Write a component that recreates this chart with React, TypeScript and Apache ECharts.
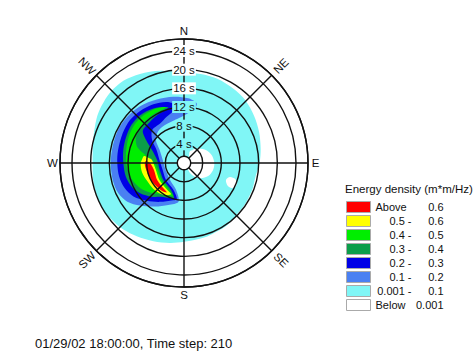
import React, { useEffect, useRef } from 'react';
import * as echarts from 'echarts';

// ---------- data ----------
const levelLow = ['Above', '0.5 -', '0.4 -', '0.3 -', '0.2 -', '0.1 -', '0.001 -', 'Below'];
const levelHigh = ['0.6', '0.6', '0.5', '0.4', '0.3', '0.2', '0.1', '0.001'];
const levelNames = levelLow.map((l, i) => `${l} ${levelHigh[i]}`);
const levelColors = ['#ff0000', '#ffff00', '#00ee00', '#0b9e4a', '#0000e6', '#4a80f2', '#80f6f6', '#ffffff'];

const periodTicks = [4, 8, 12, 16, 20, 24];
const periodMax = 26.57;
const innerPeriod = 1.43;

const directionNames = ['N', 'NE', 'E', 'SE', 'S', 'SW', 'W', 'NW'];
const directionAngles = [0, 45, 90, 135, 180, 225, 270, 315];

// contour outlines: [direction (deg, clockwise from N), period (s)]
const aboveLevel = [
  [273, 8.2], [270, 7.3], [256.9, 6.6], [237.8, 6.8], [215.1, 7.1], [210.4, 7.3],
  [216.9, 7.6], [227.3, 7.7], [239.9, 7.9], [252.6, 8.1], [262.5, 8.3], [268.5, 8.4],
];
const level05 = [
  [275.4, 9.0], [279.9, 8.7], [278.1, 7.6], [275.4, 6.9], [256, 6.2], [235.2, 6.4],
  [212.2, 6.8], [202.8, 7.2], [206.6, 7.7], [216.6, 8.3], [230.2, 8.6], [244.7, 8.8],
  [257.3, 9.2], [268.6, 9.3],
];
const level04 = [
  [342, 12.6], [333, 13.1], [320, 13.4], [307, 13.4], [295, 13.1], [283, 12.7], [270, 12.4],
  [259, 12.0], [248, 11.4], [237, 10.5], [226, 9.3], [216, 8.2], [205, 7.7], [198.4, 7.5],
  [209.1, 6.6], [232.9, 6.0], [254.9, 5.8], [268, 6.2], [276, 7.0], [282, 8.5], [289, 10.6],
  [297, 11.6], [306, 12.0], [315, 12.2], [328, 12.3], [338, 12.3],
];
const level03 = [
  [344.3, 12.4], [330.7, 13.4], [317.5, 13.9], [306, 13.9], [294.4, 13.6], [282.1, 13.3],
  [270.3, 13.0], [256.7, 12.8], [245.6, 12.3], [235.4, 11.4], [223.8, 10.0], [213.5, 8.7],
  [205, 8.2], [196, 7.8], [205.7, 6.4], [230.3, 5.7], [253.7, 5.4], [276.3, 5.8], [292.1, 7.4],
  [301.2, 9.5], [308, 11.2], [318.8, 11.4], [329.2, 11.7], [338.4, 12.0],
];
const level02 = [
  [352.8, 12.5], [344.2, 13.6], [332.5, 14.2], [319.9, 14.6], [308.5, 14.8], [295.8, 14.6],
  [281.2, 14.4], [270.3, 14.3], [258, 14.2], [246.8, 13.8], [236.4, 13.0], [224.7, 11.4],
  [211.8, 9.8], [196.1, 8.3], [191, 7.9], [201.3, 6.2], [226.6, 5.3], [252, 4.8], [277, 5.3],
  [295.3, 6.5], [305.7, 8.4], [315.9, 9.8], [328.8, 9.9], [339.5, 10.6], [348.4, 11.4],
];
const level01 = [
  [12, 13.1], [3.8, 13.9], [350.8, 14.4], [336.8, 14.8], [322.3, 15.4], [309.2, 15.7],
  [296.7, 15.8], [282.9, 15.7], [270.2, 15.7], [256.6, 15.7], [245.2, 15.5], [235.7, 14.7],
  [225.9, 13.1], [213.6, 11.2], [200.5, 9.6], [188, 8.4], [196.5, 6.0], [219.5, 4.7],
  [249.3, 4.2], [277.9, 4.6], [298, 5.9], [309.4, 7.8], [320.9, 8.8], [333.4, 9.1],
  [350.5, 9.5], [3.2, 10.5], [11.4, 12.0],
];
const level0001 = [
  [0, 19.4], [10.6, 19.4], [21.6, 19.4], [34, 19.1], [44.7, 18.8], [56, 18.1], [67.7, 17.4],
  [79.7, 16.7], [90, 16.2], [100.7, 15.6], [110, 15.7], [117, 15.7], [124.8, 15.8], [133, 15.8],
  [145, 16.2], [154, 16.3], [162.4, 16.5], [170, 16.6], [180, 16.9], [190, 17.4], [201.4, 18.0],
  [212.8, 18.7], [222.3, 19.3], [230.5, 19.6], [240, 20.0], [249, 20.0], [259.6, 19.8],
  [270, 19.6], [284.8, 20.1], [296.7, 21.0], [304.9, 21.5], [313.7, 21.9], [323.6, 21.9],
  [333.7, 21.3], [345.4, 20.4],
];
const belowHoleCenter = [
  [26.6, 2.9], [45, 4.4], [60.3, 5.5], [74.9, 6.2], [90, 6.5], [104, 6.4], [118.4, 5.9],
  [133.2, 4.8], [146.3, 3.1], [146, 1.5], [45, 1.5],
];
const belowHoleSpot = [
  [112, 9.7], [106.9, 10.3], [107.4, 11.5], [111.6, 12.2], [117, 11.8], [117.6, 10.6],
];

const levelPolys: number[][][][] = [
  [aboveLevel], [level05], [level04], [level03], [level02], [level01], [level0001],
  [belowHoleCenter, belowHoleSpot],
];

// ---------- chart ----------
const FONT = 'Liberation Sans, Arial, sans-serif';
const drawOrder = [6, 7, 5, 4, 3, 2, 1, 0];
const LINE = '#111';
const LW = 1.4;

function buildOption() {
  const contourSeries = drawOrder.map((li, k) => ({
    type: 'custom',
    name: levelNames[li],
    coordinateSystem: 'polar',
    silent: true,
    z: 2,
    itemStyle: { color: levelColors[li] },
    data: levelPolys[li].map((p, i) => [p[0][1], p[0][0], i]),
    renderItem: (params: any, api: any) => {
      const poly = levelPolys[li][params.dataIndex];
      const points = poly.map(([a, r]) => api.coord([r, a]));
      return {
        type: 'polygon',
        z2: k,
        shape: { points, smooth: 0.3 },
        style: { fill: levelColors[li], stroke: null },
      };
    },
  }));

  const innerCircle = {
    type: 'custom',
    name: 'inner',
    coordinateSystem: 'polar',
    silent: true,
    z: 20,
    data: [[innerPeriod, 0]],
    renderItem: (params: any, api: any) => {
      const c = api.coord([0, 0]);
      const p = api.coord([innerPeriod, 0]);
      const r = Math.hypot(p[0] - c[0], p[1] - c[1]);
      return {
        type: 'circle',
        shape: { cx: c[0], cy: c[1], r },
        style: { fill: '#ffffff', stroke: LINE, lineWidth: LW },
      };
    },
  };

  const dirLabels = {
    type: 'custom',
    name: 'directions',
    coordinateSystem: 'polar',
    silent: true,
    z: 20,
    data: directionAngles.map((a, i) => [28, a, i]),
    renderItem: (params: any, api: any) => {
      const i = params.dataIndex;
      const a = directionAngles[i];
      const diag = a % 90 !== 0;
      const p = api.coord([diag ? 29.4 : 28.2, a]);
      let rot = 0;
      if (diag) {
        rot = 90 - a;
        while (rot > 90) rot -= 180;
        while (rot < -90) rot += 180;
      }
      return {
        type: 'text',
        x: p[0],
        y: p[1],
        rotation: (rot * Math.PI) / 180,
        style: {
          text: directionNames[i],
          fill: '#111',
          font: `11.5px ${FONT}`,
          align: 'center',
          verticalAlign: 'middle',
          textAlign: 'center',
          textVerticalAlign: 'middle',
        },
      };
    },
  };

  const tickRich = {
    fontSize: 11.5,
    fontFamily: FONT,
    color: '#111',
    padding: [0, 1],
  };

  return {
    animation: false,
    backgroundColor: '#ffffff',
    title: [
      {
        text: 'Energy density (m*m/Hz)',
        left: 345,
        top: 183,
        padding: 0,
        textStyle: { fontSize: 11.5, fontWeight: 'normal', color: '#111', fontFamily: FONT },
      },
      {
        text: '01/29/02 18:00:00, Time step: 210',
        left: 35,
        top: 337,
        padding: 0,
        textStyle: { fontSize: 13, fontWeight: 'normal', color: '#111', fontFamily: FONT },
      },
    ],
    legend: {
      data: levelNames.map((n) => ({
        name: n,
        itemStyle: { borderColor: '#aaaaaa', borderWidth: 1 },
      })),
      orient: 'vertical',
      left: 346,
      top: 201,
      padding: 0,
      itemWidth: 24,
      itemHeight: 11,
      itemGap: 2,
      icon: 'rect',
      selectedMode: false,
      formatter: (name: string) => {
        const i = levelNames.indexOf(name);
        const key = i === 0 || i === 7 ? 'l' : 'r';
        return `{${key}|${levelLow[i]}}{h|${levelHigh[i]}}`;
      },
      textStyle: {
        fontSize: 11,
        color: '#111',
        fontFamily: FONT,
        rich: {
          l: { width: 36, align: 'left', fontSize: 11, lineHeight: 12, fontFamily: FONT, color: '#111' },
          r: { width: 36, align: 'right', fontSize: 11, lineHeight: 12, fontFamily: FONT, color: '#111' },
          h: { width: 32, align: 'right', fontSize: 11, lineHeight: 12, fontFamily: FONT, color: '#111' },
        },
      },
    },
    polar: { center: [184, 163], radius: 124 },
    angleAxis: {
      type: 'value',
      min: 0,
      max: 360,
      interval: 45,
      startAngle: 90,
      clockwise: true,
      z: 10,
      axisLine: { show: true, lineStyle: { color: LINE, width: LW } },
      axisTick: { show: false },
      axisLabel: { show: false },
      splitLine: { show: true, lineStyle: { color: LINE, width: LW } },
    },
    radiusAxis: {
      type: 'value',
      min: 0,
      max: periodMax,
      interval: 4,
      z: 10,
      axisLine: { show: false },
      axisTick: { show: false },
      axisLabel: {
        show: true,
        margin: 0,
        align: 'center',
        verticalAlign: 'middle',
        fontSize: 11.5,
        color: '#111',
        fontFamily: FONT,
        formatter: (v: number) =>
          periodTicks.includes(v) ? (v >= 16 ? `{w|${v} s}` : `{c|${v} s}`) : '',
        rich: {
          w: { ...tickRich, backgroundColor: '#ffffff' },
          c: { ...tickRich, backgroundColor: '#80f6f6' },
        },
      },
      splitLine: { show: true, lineStyle: { color: LINE, width: LW } },
    },
    series: [...contourSeries, innerCircle, dirLabels],
  };
}

export default function App() {
  const ref = useRef<HTMLDivElement>(null);
  useEffect(() => {
    document.body.style.margin = '0';
    const chart = echarts.init(ref.current!, null, { renderer: 'svg' });
    chart.setOption(buildOption() as any);
    return () => chart.dispose();
  }, []);
  return <div ref={ref} style={{ width: 474, height: 364 }} />;
}
